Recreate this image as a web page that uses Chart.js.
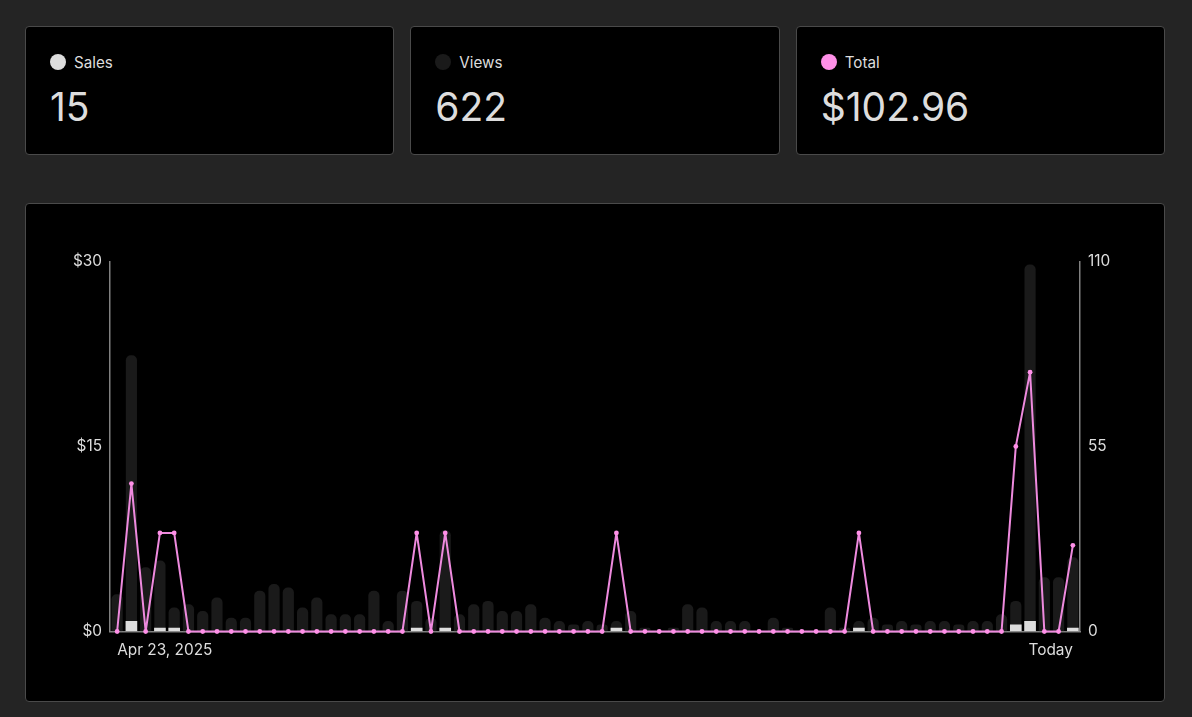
<!DOCTYPE html>
<html>
<head>
<meta charset="utf-8">
<script src="https://cdn.jsdelivr.net/npm/chart.js@4"></script>
<style>
  * { box-sizing: border-box; }
  html, body { margin: 0; height: 717px; overflow: hidden; background: #242424; font-family: Inter, "Noto Sans", sans-serif; color: #dddddd; }
  .stat { position: absolute; top: 26px; height: 129px; background: #000; border: 1px solid #4a4a4a; border-radius: 4px; }
  .stat .label { position: absolute; left: 48px; top: 26px; font-size: 15.2px; line-height: 20px; }
  .stat .dot { position: absolute; left: 24px; top: 27px; width: 16px; height: 16px; border-radius: 50%; }
  .stat .value { position: absolute; left: 24px; top: 55px; font-size: 39px; line-height: 50px; }
  .panel { position: absolute; left: 25px; top: 203px; width: 1140px; height: 499px; background: #000; border: 1px solid #4a4a4a; border-radius: 4px; }
  canvas { display: block; }
</style>
</head>
<body>
<div class="stat" style="left:25px;width:369.3px"><span class="dot" style="background:#dddddd"></span><span class="label">Sales</span><div class="value">15</div></div>
<div class="stat" style="left:410.3px;width:369.3px"><span class="dot" style="background:#1a1a1a"></span><span class="label">Views</span><div class="value">622</div></div>
<div class="stat" style="left:795.7px;width:369.3px"><span class="dot" style="background:#ff90e8"></span><span class="label">Total</span><div class="value">$102.96</div></div>
<div class="panel"><canvas id="chart" width="1138" height="497"></canvas></div>
<script>
const days = [
  "Apr 23", "Apr 24", "Apr 25", "Apr 26", "Apr 27", "Apr 28", "Apr 29", "Apr 30",
  "May 1", "May 2", "May 3", "May 4", "May 5", "May 6", "May 7", "May 8", "May 9", "May 10",
  "May 11", "May 12", "May 13", "May 14", "May 15", "May 16", "May 17", "May 18", "May 19", "May 20",
  "May 21", "May 22", "May 23", "May 24", "May 25", "May 26", "May 27", "May 28", "May 29", "May 30", "May 31",
  "Jun 1", "Jun 2", "Jun 3", "Jun 4", "Jun 5", "Jun 6", "Jun 7", "Jun 8", "Jun 9", "Jun 10",
  "Jun 11", "Jun 12", "Jun 13", "Jun 14", "Jun 15", "Jun 16", "Jun 17", "Jun 18", "Jun 19", "Jun 20",
  "Jun 21", "Jun 22", "Jun 23", "Jun 24", "Jun 25", "Jun 26", "Jun 27", "Jun 28", "Jun 29"
];
const views = [
  11, 82, 19, 21, 7, 8, 6, 10, 4, 4,
  12, 14, 13, 7, 10, 5, 5, 5, 12, 3,
  12, 9, 4, 30, 5, 8, 9, 6, 6, 8,
  4, 3, 2, 3, 2, 3, 6, 1, 0, 1,
  8, 7, 3, 3, 3, 0, 4, 1, 0, 0,
  7, 1, 3, 4, 2, 3, 2, 3, 3, 2,
  3, 3, 5, 9, 109, 16, 16, 22
];
const sales = [
  0, 3, 0, 1, 1, 0, 0, 0, 0, 0,
  0, 0, 0, 0, 0, 0, 0, 0, 0, 0,
  0, 1, 0, 1, 0, 0, 0, 0, 0, 0,
  0, 0, 0, 0, 0, 1, 0, 0, 0, 0,
  0, 0, 0, 0, 0, 0, 0, 0, 0, 0,
  0, 0, 1, 0, 0, 0, 0, 0, 0, 0,
  0, 0, 0, 2, 3, 0, 0, 1
];
const totals = [
  0, 11.99, 0, 7.99, 7.99, 0, 0, 0, 0, 0,
  0, 0, 0, 0, 0, 0, 0, 0, 0, 0,
  0, 7.99, 0, 7.99, 0, 0, 0, 0, 0, 0,
  0, 0, 0, 0, 0, 7.99, 0, 0, 0, 0,
  0, 0, 0, 0, 0, 0, 0, 0, 0, 0,
  0, 0, 7.99, 0, 0, 0, 0, 0, 0, 0,
  0, 0, 0, 15.01, 21.03, 0, 0, 6.99
];
const moneyTicks = [0, 15, 30];
const viewTicks = [0, 55, 110];
const firstLabel = "Apr 23, 2025";
const lastLabel = "Today";

const tickFont = { family: "Inter", size: 15.4 };

function useTicks(values) {
  return (axis) => {
    axis.ticks = values.map((value) => ({ value }));
  };
}

new Chart(document.getElementById("chart"), {
  data: {
    labels: days,
    datasets: [
      {
        type: "line", label: "Total", data: totals, yAxisID: "money", order: 0,
        borderColor: "#ee8ade", backgroundColor: "#ff90e8", borderWidth: 2,
        borderJoinStyle: "round", pointRadius: 2.4, pointBorderWidth: 0, tension: 0, clip: false
      },
      {
        type: "bar", label: "Sales", data: sales, yAxisID: "count", order: 1,
        backgroundColor: "#dddddd", barThickness: 11, grouped: false
      },
      {
        type: "bar", label: "Views", data: views, yAxisID: "count", order: 2,
        backgroundColor: "#1a1a1a", barThickness: 10.5, grouped: false,
        borderRadius: { topLeft: 5, topRight: 5, bottomLeft: 0, bottomRight: 0 }
      }
    ]
  },
  options: {
    responsive: false,
    animation: false,
    layout: { padding: { top: 57.5 } },
    plugins: { legend: { display: false }, tooltip: { enabled: false } },
    scales: {
      x: {
        grid: { display: false, drawTicks: false },
        border: { color: "#808080", width: 1.5 },
        afterFit: (axis) => { axis.height = 69.5; },
        ticks: {
          color: "#dddddd", font: tickFont, padding: 10, autoSkip: false, maxRotation: 0, align: "inner",
          callback: (value, index) => {
            if (index === 0) return firstLabel;
            if (index === days.length - 1) return lastLabel;
            return "";
          }
        }
      },
      money: {
        position: "left", min: 0, max: 30,
        grid: { display: false, drawTicks: false },
        border: { color: "#808080", width: 1.5 },
        afterBuildTicks: useTicks(moneyTicks),
        afterFit: (axis) => { axis.width = 84; },
        ticks: { color: "#dddddd", font: tickFont, padding: 8, callback: (value) => "$" + value }
      },
      count: {
        position: "right", min: 0, max: 110,
        grid: { display: false, drawTicks: false },
        border: { color: "#808080", width: 1.5 },
        afterBuildTicks: useTicks(viewTicks),
        afterFit: (axis) => { axis.width = 84; },
        ticks: { color: "#dddddd", font: tickFont, padding: 8 }
      }
    }
  }
});
</script>
</body>
</html>
